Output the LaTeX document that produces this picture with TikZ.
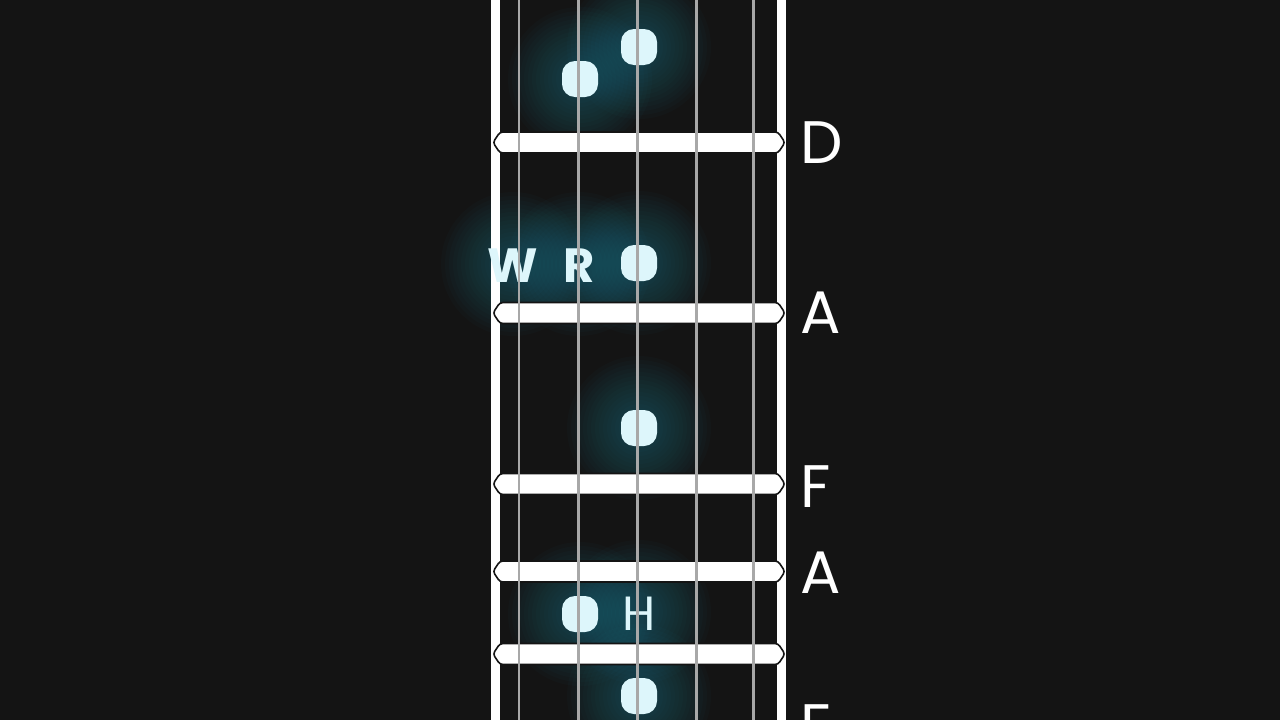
\documentclass[tikz,border=0pt]{standalone}
\usepackage{fontspec}
\setmainfont{Poppins}
\begin{document}
\begin{tikzpicture}[x=1pt,y=-1pt,
  glowring/.style={fill=glowcol, opacity=0.024},
  dotbox/.style={fill=dotcol, rounded corners=13pt},
  stringline/.style={draw=strcol, line width=2.6pt},
  borderline/.style={draw=white, line width=9pt},
  fretbar/.style={fill=white, draw=bgcol, line width=1.6pt, rounded corners=3pt},
  notelabel/.style={text=white, font=\fontsize{60}{60}\selectfont, anchor=base west, inner sep=0pt},
  glowtext/.style={text=dotcol, font=\bfseries\fontsize{48}{48}\selectfont, anchor=base, inner sep=0pt}
]
\definecolor{bgcol}{HTML}{141414}
\definecolor{glowcol}{HTML}{1AAAC8}
\definecolor{dotcol}{HTML}{DDF6FB}
\definecolor{strcol}{HTML}{A8A8A8}
\useasboundingbox (0,0) rectangle (1280,720);
\clip (0,0) rectangle (1280,720);
\fill[bgcol] (0,0) rectangle (1280,720);

% glows
\foreach \gx/\gy in {639/47, 580/79, 639/263, 513/264, 579/264, 639/428, 580/614, 639/612, 639/696}{
  \foreach \r in {72,68,64,60,56,52,48,44,40,36,32,28,24,20}{
    \fill[glowring] (\gx,\gy) circle (\r);
  }
}

% borders
\draw[borderline] (495,-10) -- (495,730);
\draw[borderline] (781,-10) -- (781,730);

% frets
\foreach \fy [count=\i] in {142.5,313,484,571.5,654}{
  \path[fretbar] (493,\fy) -- (500,\fy-10.5) -- (778,\fy-10.5) -- (785,\fy) -- (778,\fy+10.5) -- (500,\fy+10.5) -- cycle;
  \coordinate (fret\i) at (785,\fy);
}

% dots
\foreach \dx/\dy [count=\i] in {639/47, 580/79, 639/263, 639/428, 580/614, 639/696}{
  \path[dotbox] (\dx-18,\dy-18) rectangle (\dx+18,\dy+18);
  \coordinate (dot\i) at (\dx,\dy);
}

% glowing letters
\node[glowtext] (w) at (513,282) {W};
\node[glowtext] (r) at (579,282) {R};
\node[glowtext, font=\fontsize{48}{48}\selectfont] (h) at (639,630) {H};

% strings
\foreach \sx [count=\i] in {519,578.5,637.5,696.5,753.5}{
  \draw[stringline] (\sx,-10) -- (\sx,730);
}

% note names
\node[notelabel] (n1) at (800,163) {D};
\node[notelabel] (n2) at (800,333) {A};
\node[notelabel] (n3) at (800,507) {F};
\node[notelabel] (n4) at (800,593) {A};
\node[notelabel] (n5) at (800,746) {F};
\end{tikzpicture}
\end{document}
